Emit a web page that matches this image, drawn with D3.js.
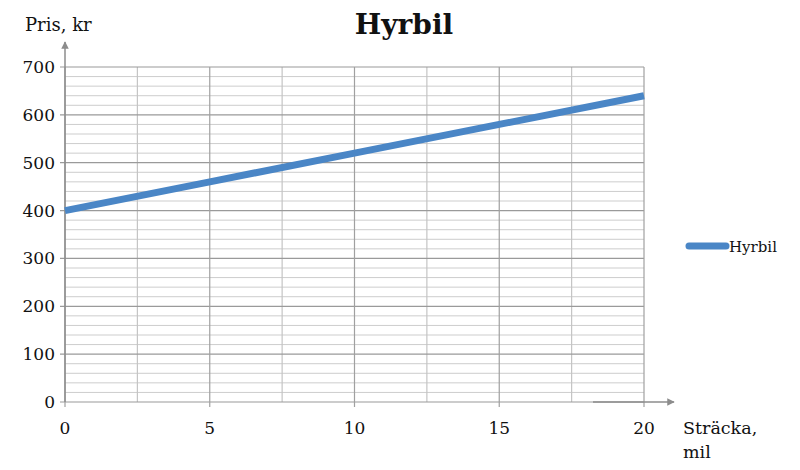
<!doctype html>
<html lang="sv">
<head>
<meta charset="UTF-8">
<title>Hyrbil</title>
<script src="https://cdn.jsdelivr.net/npm/d3@7"></script>
<style>
  body { margin: 0; background: #fff; }
  text { font-family: "DejaVu Serif", "Liberation Serif", serif; fill: #111; }
</style>
</head>
<body>
<svg width="800" height="470"></svg>
<script>
// data
const distance = [0, 5, 10, 15, 20];
const price = [400, 460, 520, 580, 640];
const xTicks = [0, 5, 10, 15, 20];
const yTicks = [0, 100, 200, 300, 400, 500, 600, 700];

const svg = d3.select("svg");
const m = { left: 65, right: 644, top: 67, bottom: 402 };

const x = d3.scaleLinear().domain([0, 20]).range([m.left, m.right]);
const y = d3.scaleLinear().domain([0, 700]).range([m.bottom, m.top]);

const grid = svg.append("g");
// minor horizontal lines every 20
grid.selectAll(".hmin").data(d3.range(0, 701, 20).filter(d => d % 100 !== 0))
  .enter().append("line")
  .attr("x1", m.left).attr("x2", m.right)
  .attr("y1", d => y(d)).attr("y2", d => y(d))
  .attr("stroke", "#cdcdcd").attr("stroke-width", 1);
// minor vertical lines
grid.selectAll(".vmin").data(d3.range(2.5, 20, 5))
  .enter().append("line")
  .attr("x1", d => x(d)).attr("x2", d => x(d))
  .attr("y1", m.top).attr("y2", m.bottom)
  .attr("stroke", "#c4c4c4").attr("stroke-width", 1.2);
// major lines
grid.selectAll(".hmaj").data(yTicks)
  .enter().append("line")
  .attr("x1", m.left - 5).attr("x2", m.right)
  .attr("y1", d => y(d)).attr("y2", d => y(d))
  .attr("stroke", "#9a9a9a").attr("stroke-width", 1.2);
grid.selectAll(".vmaj").data(xTicks)
  .enter().append("line")
  .attr("x1", d => x(d)).attr("x2", d => x(d))
  .attr("y1", m.top).attr("y2", m.bottom + 5)
  .attr("stroke", "#a0a0a0").attr("stroke-width", 1.2);

// arrows
svg.append("defs").append("marker")
  .attr("id", "arr").attr("viewBox", "0 0 10 10")
  .attr("refX", 9).attr("refY", 5)
  .attr("markerWidth", 5).attr("markerHeight", 5)
  .attr("orient", "auto")
  .append("path").attr("d", "M0,0 L10,5 L0,10 Z").attr("fill", "#8c8c8c");

svg.append("line")
  .attr("x1", x(0)).attr("x2", x(0))
  .attr("y1", m.bottom).attr("y2", 42)
  .attr("stroke", "#8c8c8c").attr("stroke-width", 1.5)
  .attr("marker-end", "url(#arr)");
svg.append("line")
  .attr("x1", 593).attr("x2", 674)
  .attr("y1", m.bottom).attr("y2", m.bottom)
  .attr("stroke", "#8c8c8c").attr("stroke-width", 1.5)
  .attr("marker-end", "url(#arr)");

// tick labels
svg.selectAll(".yl").data(yTicks).enter().append("text")
  .attr("x", 55).attr("y", d => y(d) + 6)
  .attr("text-anchor", "end").attr("font-size", 17)
  .text(d => d);
svg.selectAll(".xl").data(xTicks).enter().append("text")
  .attr("x", d => x(d)).attr("y", 434)
  .attr("text-anchor", "middle").attr("font-size", 17)
  .text(d => d);

// series
svg.append("path")
  .datum(distance.map((d, i) => [d, price[i]]))
  .attr("d", d3.line().x(d => x(d[0])).y(d => y(d[1])))
  .attr("fill", "none").attr("stroke", "#4a86c6")
  .attr("stroke-width", 7);

// title & axis titles
svg.append("text").attr("x", 404).attr("y", 34)
  .attr("text-anchor", "middle").attr("font-size", 28).attr("font-weight", "bold")
  .text("Hyrbil");
svg.append("text").attr("x", 25).attr("y", 31).attr("font-size", 18).text("Pris, kr");
svg.append("text").attr("x", 683).attr("y", 434).attr("font-size", 17.5).text("Sträcka,");
svg.append("text").attr("x", 683).attr("y", 458).attr("font-size", 17.5).text("mil");

// legend
svg.append("line").attr("x1", 689).attr("x2", 726).attr("y1", 246).attr("y2", 246)
  .attr("stroke", "#4a86c6").attr("stroke-width", 7).attr("stroke-linecap", "round");
svg.append("text").attr("x", 729).attr("y", 252).attr("font-size", 15).text("Hyrbil");
</script>
</body>
</html>
